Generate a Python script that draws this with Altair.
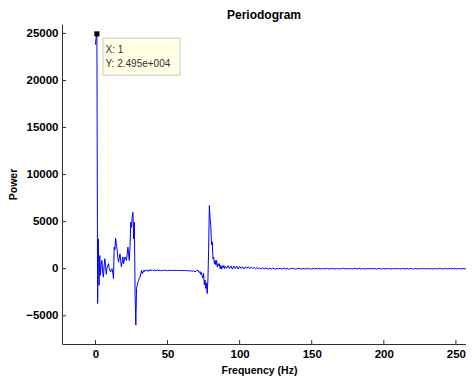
import altair as alt
import numpy as np
import pandas as pd

# ---------------- data ----------------
freq_a = np.arange(0, 40.5, 0.5)          # 0 .. 40 Hz
power_a = [23800, 24600, 24950, -3700, 3170, -1760, 1400, -700, 500, 880,
           -300, -900, 300, 1060, 300, -600, 100, 300, 530, 100,
           -150, -350, -100, 0, -400, -1050, 2290, 2000, 3240, 2600,
           2110, 1200, 700, 1100, 1580, 900, 180, 700, 1250, 530,
           900, 1250, 1100, 880, 1500, 2290, 1500, 880, 2500, 4930,
           4400, 5500, 5990, 3170, 4930, -2820, -5990, -2110, -1700, -1400,
           -1230, -1000, -880, -500, -180, -530, -350, -180, -300, -150,
           -250, -120, -200, -280, -120, -200, -100, -220, -150, -120,
           -200]

freq_b = np.arange(41, 71, 1)             # 41 .. 70 Hz
power_b = [-150, -220, -130, -200, -160, -240, -150, -190, -170, -210,
           -160, -200, -180, -190, -170, -200, -180, -190, -200, -180,
           -210, -190, -220, -200, -240, -210, -280, -220, -330, -250]

freq_c = np.arange(70.5, 90.5, 0.5)       # 70.5 .. 90 Hz
power_c = [-150, -250, -200, -420, -300, -600, -400, -800, -1000, -500,
           -1700, -1200, -2100, -1500, -2640, -1200, 2000, 6700, 5280, 4580,
           2540, 2850, 1060, 1200, 530, 880, 400, 880, 180, 530,
           300, 530, 0, 350, -50, 300, 100, 350, 0, 250]

freq_d = np.arange(91, 258, 1)            # 91 .. 257 Hz
power_d = [50, 320, 0, 300, -50, 280, 20, 260, -30, 240, 30, 220, -20, 200, 40, 210, 0, 180, 30, 150,
           -20, 120, 10, 90, -40, 100, -10, 60, 20, -60, 50, -30, 80, 0, -50, 40, -20, 60, -40, 20,
           50, -30, 30, -60, 10, 40, -20, 30, -50, 20, 60, -10, -40, 30, 0, -30, 50, -20, 10, -50,
           30, -10, 40, -40, 20, 0, -30, 50, -20, 10, 30, -50, 20, -10, 40, -30, 0, 20, -40, 30,
           -20, 50, 0, -30, 20, -10, 40, -40, 10, 30, -20, 0, 50, -30, 20, -10, -40, 30, 0, 20,
           -30, 40, -10, 20, -50, 10, 30, -20, 0, 40, -30, 20, -10, 30, -40, 0, 20, -20, 40, -10,
           10, -40, 30, 0, -20, 40, -30, 10, 20, -40, 0, 30, -20, 10, -30, 40, -10, 20, -30, 0,
           30, -20, 10, -40, 20, 0, -30, 40, -10, 20, -40, 10, 30, -20, 0, 20, -30, 40, -10, 10,
           -30, 20, 0, -20, 30, -10, 0]

x_domain = [-23.2, 257.0]
y_domain = [-8000, 26000]
x_ticks = [0, 50, 100, 150, 200, 250]
y_ticks = [-5000, 0, 5000, 10000, 15000, 20000, 25000]

peak_freq = 1
peak_power = 24950
tip_x_text = "X: 1"
tip_y_text = "Y: 2.495e+004"

title_text = "Periodogram"
x_title = "Frequency (Hz)"
y_title = "Power"

# ---------------- chart ----------------
W, H = 404, 320
FONT = "Liberation Sans"
AX = "#303030"

freq = np.concatenate([freq_a, freq_b, freq_c, freq_d])
power = power_a + power_b + power_c + power_d
n = min(len(freq), len(power))
df = pd.DataFrame({"f": freq[:n], "p": power[:n]})

xs = alt.Scale(domain=x_domain, nice=False, zero=False)
ys = alt.Scale(domain=y_domain, nice=False, zero=False)

common_axis = dict(grid=False, ticks=False, domainColor=AX, domainWidth=1,
                   labelFont=FONT, labelFontSize=11.5, labelFontWeight="bold",
                   labelColor="black", labelPadding=4, format="d",
                   titleFont=FONT, titleFontWeight="bold", titleColor="black",
                   titleFontSize=10.5, titleAlign="center", titleBaseline="middle")

line = alt.Chart(df).mark_line(color="#0000ff", strokeWidth=1, clip=True).encode(
    x=alt.X("f:Q", scale=xs, title=x_title,
            axis=alt.Axis(values=x_ticks, titleX=197, titleY=26, titleAngle=0,
                          **common_axis)),
    y=alt.Y("p:Q", scale=ys, title=y_title,
            axis=alt.Axis(values=y_ticks, titleX=-49, titleY=160, titleAngle=270,
                          **common_axis)),
)

# inward tick marks (same field names so axes merge with the line layer)
xt = alt.Chart(pd.DataFrame({"f": x_ticks})).mark_rule(color=AX, strokeWidth=1).encode(
    x=alt.X("f:Q", scale=xs),
    y=alt.value(H), y2=alt.value(H - 4),
)
yt = alt.Chart(pd.DataFrame({"p": y_ticks})).mark_rule(color=AX, strokeWidth=1).encode(
    y=alt.Y("p:Q", scale=ys),
    x=alt.value(0), x2=alt.value(4),
)

tip_df = pd.DataFrame({"f": [peak_freq], "p": [peak_power],
                       "tx": [tip_x_text], "ty": [tip_y_text]})
tip_base = alt.Chart(tip_df).encode(
    x=alt.X("f:Q", scale=xs),
    y=alt.Y("p:Q", scale=ys),
)
box = tip_base.mark_rect(width=77, height=37, xOffset=44.6, yOffset=22.8,
                         fill="#ffffe4", stroke="#c8c8c8", strokeWidth=1)
marker = tip_base.mark_square(size=26, color="black", opacity=1)
txt1 = tip_base.mark_text(align="left", baseline="middle", dx=8.6, dy=16,
                          font=FONT, fontSize=10, color="#333333").encode(text="tx:N")
txt2 = tip_base.mark_text(align="left", baseline="middle", dx=8.6, dy=30.4,
                          font=FONT, fontSize=10, color="#333333").encode(text="ty:N")

chart = alt.layer(line, xt, yt, box, marker, txt1, txt2).properties(
    width=W, height=H,
    title=alt.TitleParams(title_text, font=FONT, fontSize=12, fontWeight="bold",
                          color="black", anchor="middle", offset=2.5),
    autosize=alt.AutoSizeParams(type="none"),
    padding={"left": 54, "top": 16, "right": 0, "bottom": 34},
    background="white",
).configure_view(stroke=None)

chart.save("out.html", embed_options={"renderer": "svg", "actions": False})
